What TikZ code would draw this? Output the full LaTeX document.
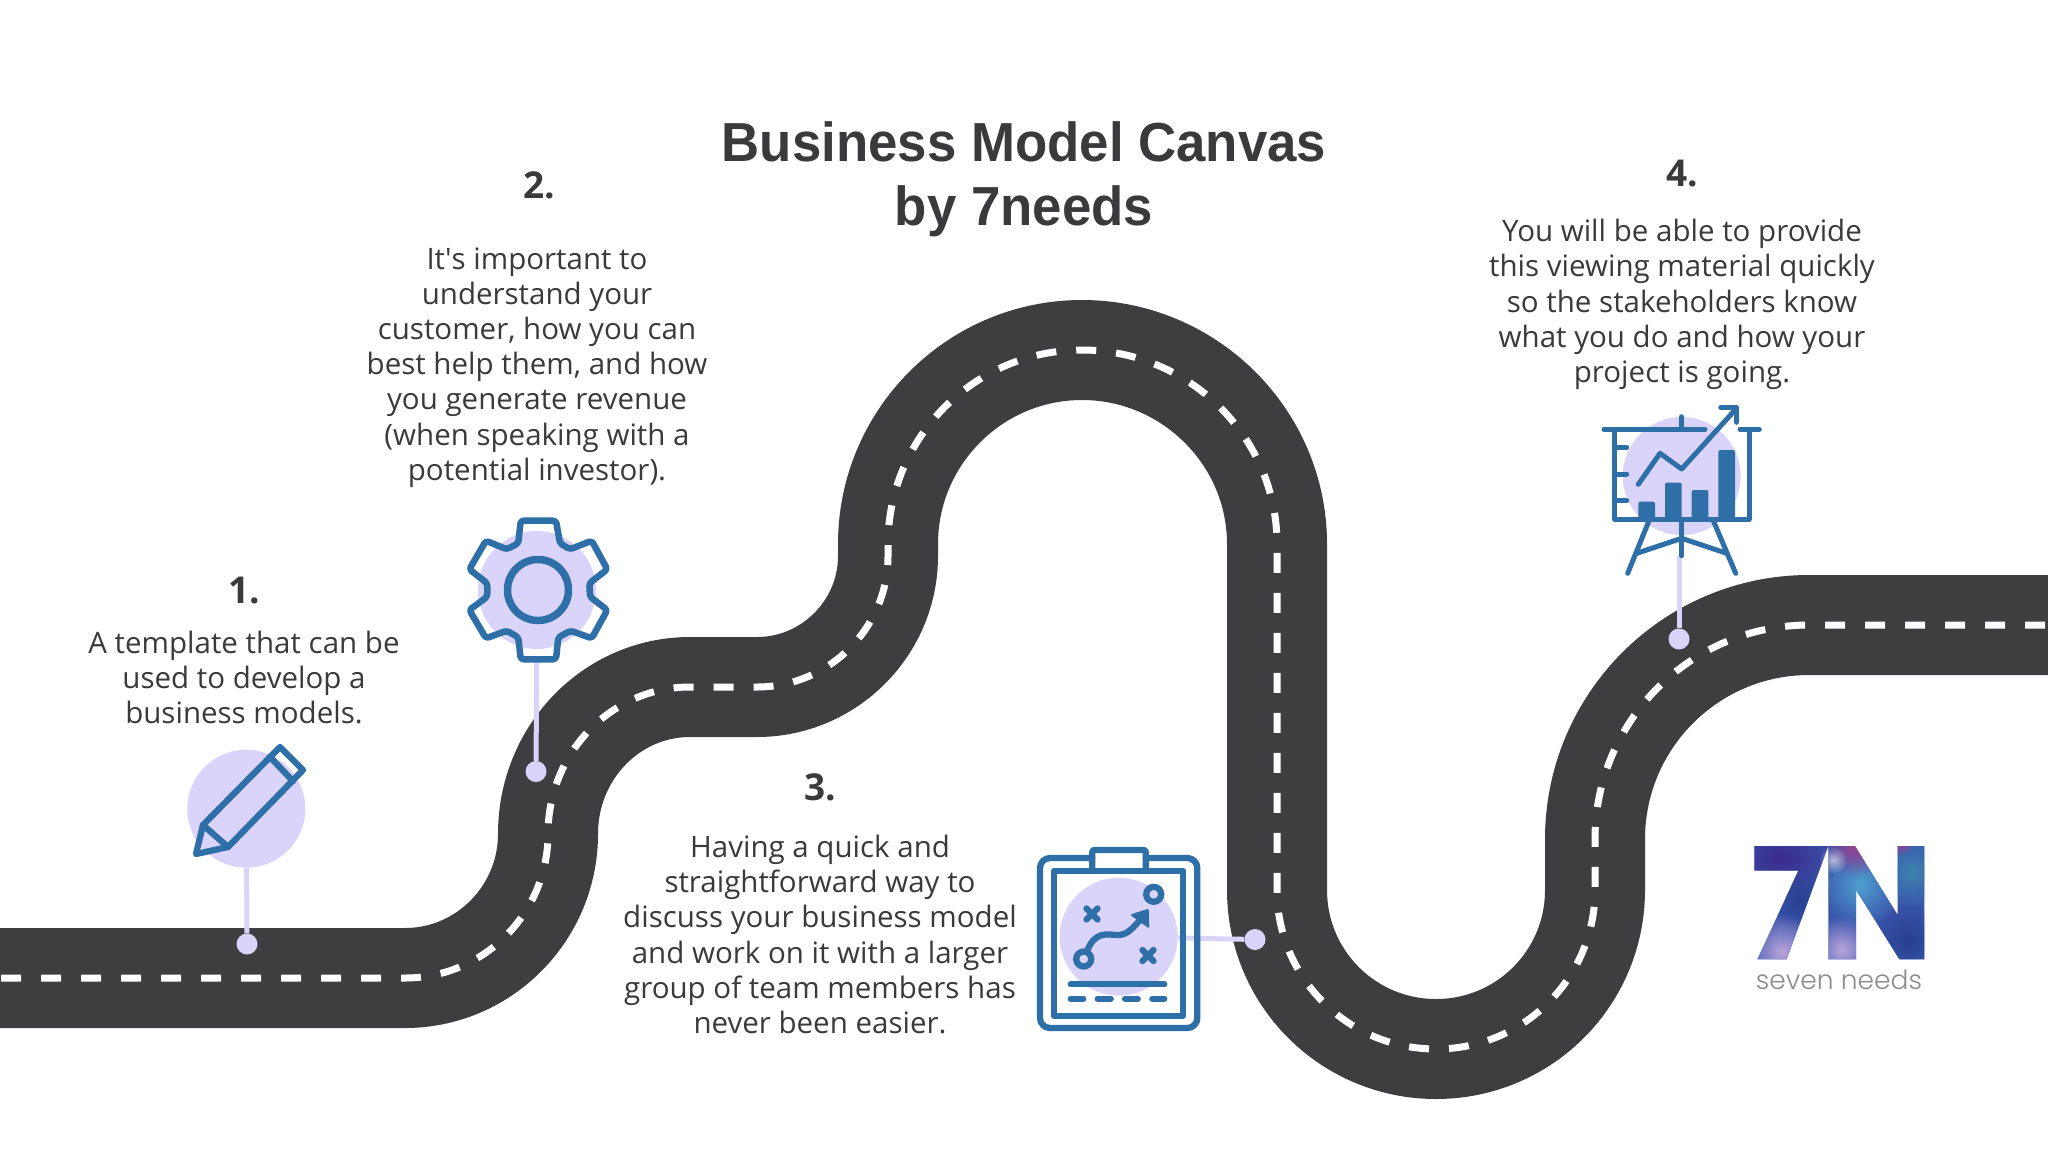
\documentclass[tikz,border=0pt]{standalone}
\usepackage{fontspec}
\setmainfont{Open Sans}
\newfontfamily\plainfont{Open Sans}
\newfontfamily\logofont{Poppins Light}
\newfontfamily\titlefont[FakeStretch=0.96]{Liberation Sans}
\usetikzlibrary{fadings,calc}
\definecolor{road}{HTML}{3E3E40}
\definecolor{lav}{HTML}{DAD4FB}
\definecolor{iconblue}{HTML}{2E6FA8}
\definecolor{ink}{HTML}{3A3A3C}
\definecolor{logoBase}{HTML}{3A55AC}
\definecolor{logoDark}{HTML}{3B2A8C}
\definecolor{logoSky}{HTML}{4F9FD0}
\definecolor{logoTeal}{HTML}{3A84AE}
\definecolor{logoDeep}{HTML}{27408F}
\definecolor{logoLav}{HTML}{B9A6DC}
\definecolor{logoMag}{HTML}{A0408F}
\tikzfading[name=softblob,inner color=transparent!0,outer color=transparent!100]
\tikzset{
  x=1pt,y=-1pt,
  roadline/.style={line width=100pt,road,line cap=butt,line join=round},
  roaddash/.style={line width=7pt,white,dash pattern=on 20pt off 20pt,dash phase=29pt},
  pinline/.style={line width=5pt,lav},
  pindot/.style={circle,fill=lav,minimum size=21pt,inner sep=0pt},
  disc/.style={circle,fill=lav,minimum size=118pt,inner sep=0pt},
  icon/.style={iconblue,line width=6.3pt,line cap=round,line join=round},
  iconthin/.style={iconblue,line width=5pt,line cap=round,line join=round},
  blob/.style={path fading=softblob},
  body/.style={text=ink,align=center,font=\fontsize{29.5}{35.2}\selectfont,inner sep=0pt},
  stepnum/.style={text=ink,font=\fontsize{37}{40}\selectfont\bfseries,inner sep=0pt},
  heading/.style={text=ink,align=center,font=\titlefont\fontsize{55}{64}\selectfont\bfseries,inner sep=0pt},
}
\begin{document}
\begin{tikzpicture}
\useasboundingbox (0,0) rectangle (2048,1152);
\fill[white] (0,0) rectangle (2048,1152);
% road
\foreach \sty in {roadline,roaddash}{
\draw[\sty] (-10,978) -- (405,978)
  .. controls (484,978) and (548,913) .. (548,834)
  .. controls (548,752) and (612,687) .. (690,687)
  -- (757,687)
  .. controls (829,687) and (888,628) .. (888,556)
  -- (888,544)
  .. controls (888,437) and (975,350) .. (1082,350)
  .. controls (1189,350) and (1277,437) .. (1277,544)
  -- (1277,890)
  .. controls (1277,978) and (1348,1049) .. (1436,1049)
  .. controls (1524,1049) and (1595,978) .. (1595,890)
  -- (1595,839)
  .. controls (1595,721) and (1691,625) .. (1809,625)
  -- (2060,625);
}
% pins
\node[pindot] (dotA) at (247,944) {};
\node[pindot] (dotB) at (536,771.5) {};
\node[pindot] (dotC) at (1255,939.5) {};
\node[pindot] (dotD) at (1679,639) {};
\node[disc] (discA) at (246.3,808.7) {};
\node[disc] (discB) at (537,590) {};
\node[disc] (discC) at (1118.7,936.7) {};
\node[disc] (discD) at (1681.7,476) {};
\coordinate (gearfoot) at (536.7,660);
\coordinate (chartfoot) at (1679,556);
\draw[pinline] (discA) -- (dotA);
\draw[pinline] (gearfoot) -- (dotB);
\draw[pinline] (discC) -- (dotC);
\draw[pinline] (chartfoot) -- (dotD);
% pencil
\draw[icon] (196,854) -- (203,825) -- (280,747) -- (303,770) -- (228,847) -- cycle;
\draw[icon] (203,825) -- (228,847);
\draw[icon] (270,757) -- (293,781);
% gear
\draw[icon,line width=6.5pt,rounded corners=3pt]
 (520.7,520.7) -- (556,520.7) -- (560,543.3) -- (570,549.3) -- (591.7,540.7) -- (607.3,569.3) -- (589.3,583.3) -- (590,596.7)
 -- (607.3,610) -- (591.7,638.3) -- (570.7,630.7) -- (558.3,637.3) -- (556,659.3) -- (520.7,659.3) -- (518.3,637.3)
 -- (506.7,630.7) -- (486,638.3) -- (469.3,610) -- (487.3,596.7) -- (487.3,583.3) -- (469.3,569.3) -- (486,540.7)
 -- (506.7,549.3) -- (518.3,543.3) -- cycle;
\draw[icon,line width=7.5pt] (538,590) circle[radius=30.5];
% clipboard
\draw[icon,rounded corners=10pt] (1092.3,858) -- (1040,858) -- (1040,1028) -- (1197.3,1028) -- (1197.3,858) -- (1145.7,858);
\draw[icon,rounded corners=2pt] (1092.3,870) -- (1092.3,850) -- (1145.7,850) -- (1145.7,870);
\draw[icon] (1054.3,870.7) rectangle (1183.3,1016);
\draw[icon] (1083.7,959) circle[radius=7.5];
\draw[icon] (1153.7,894.3) circle[radius=7.5];
\draw[icon] (1086.5,908.5) -- (1097.5,919.5) (1097.5,908.5) -- (1086.5,919.5);
\draw[icon] (1142.5,950) -- (1153.5,961) (1153.5,950) -- (1142.5,961);
\draw[icon] (1087,951.5) .. controls (1094,932) and (1106,934) .. (1116,935) .. controls (1128,936) and (1134,926) .. (1141,919);
\fill[iconblue,draw=iconblue,line width=2pt,line join=round] (1132,915) -- (1147.7,910) -- (1148.3,926.7) -- cycle;
\draw[icon] (1070.7,984.3) -- (1164.3,984.3);
\foreach \a/\b in {1070.7/1083.3,1097.7/1110.7,1125/1137.7,1152.3/1164.3}
  \draw[icon] (\a,998.7) -- (\b,998.7);
% chart
\draw[iconthin] (1604,429.3) -- (1705,429.3) (1740,429.3) -- (1759.3,429.3);
\draw[iconthin] (1681.7,416.7) -- (1681.7,429.3);
\draw[iconthin] (1614.3,429.3) -- (1614.3,519) -- (1749,519) -- (1749,429.3);
\foreach \yy in {447.3,474,500.7} \draw[iconthin] (1614.3,\yy) -- (1626.7,\yy);
\foreach \l/\t in {1638.3/501.7,1665/482.7,1691.7/490,1718.3/450}
  \fill[iconblue,rounded corners=2pt] (\l,\t) rectangle (\l+16.7,519);
\draw[iconthin] (1638.3,484.3) -- (1660,453.3) -- (1681.7,469) -- (1735,410);
\draw[iconthin] (1720.7,407.7) -- (1736.7,407.7) -- (1736.7,422.3);
\draw[iconthin] (1649,520.7) -- (1627.7,573.3) (1713.3,520.7) -- (1735.7,573.3);
\draw[iconthin] (1681.7,519) -- (1681.7,555.7);
\draw[iconthin] (1636.7,553.3) -- (1681.7,538.3) -- (1726.7,553.3);
% logo
\begin{scope}
\clip (1754.3,846) -- (1828.3,846) -- (1786.7,959.3) -- (1757.3,959.3) -- (1798.3,870.7) -- (1754.3,870.7) -- cycle
      (1828.3,959.3) -- (1828.3,846) -- (1855,846) -- (1897.7,915) -- (1897.7,846) -- (1924.3,846) -- (1924.3,959.3) -- (1899.3,959.3) -- (1856,890) -- (1856,959.3) -- cycle;
\fill[logoBase] (1750,840) rectangle (1930,965);
\fill[logoDark,blob] (1780,858) ellipse[x radius=60,y radius=38];
\fill[logoDeep,blob] (1800,900) circle[radius=32];
\fill[logoLav,blob] (1782,952) circle[radius=38];
\fill[logoLav,blob] (1842,950) circle[radius=34];
\fill[logoSky,blob] (1860,885) circle[radius=42];
\fill[logoTeal,blob] (1912,872) circle[radius=36];
\fill[logoDeep,blob] (1908,940) circle[radius=38];
\fill[logoMag,blob] (1855,846) circle[radius=30];
\fill[logoMag,blob] (1900,842) circle[radius=14];
\fill[white,opacity=.6,blob] (1833,860) circle[radius=14];
\end{scope}
\node[text=gray!90,font=\logofont\fontsize{26.5}{30}\selectfont,inner sep=0pt] (logotext) at (1839,980) {seven needs};
% text
\node[heading] (title) at (1024,179) {Business Model Canvas\\by 7needs};
\node[stepnum] (numA) at (244,591) {1.};
\node[body] (bodyA) at (244,677.5) {A template that can be\\used to develop a\\business models.};
\node[stepnum] (numB) at (539,185) {2.};
\node[body] (bodyB) at (537,367.5) {It{\plainfont\char"27}s important to\\understand your\\customer, how you can\\best help them, and how\\you generate revenue\\(when speaking with a\\potential investor).};
\node[stepnum] (numC) at (820,787) {3.};
\node[body] (bodyC) at (820,934.5) {Having a quick and\\straightforward way to\\discuss your business model\\and work on it with a larger\\group of team members has\\never been easier.};
\node[stepnum] (numD) at (1682,174) {4.};
\node[body] (bodyD) at (1682,304.5) {You will be able to provide\\this viewing material quickly\\so the stakeholders know\\what you do and how your\\project is going.};
\end{tikzpicture}
\end{document}
